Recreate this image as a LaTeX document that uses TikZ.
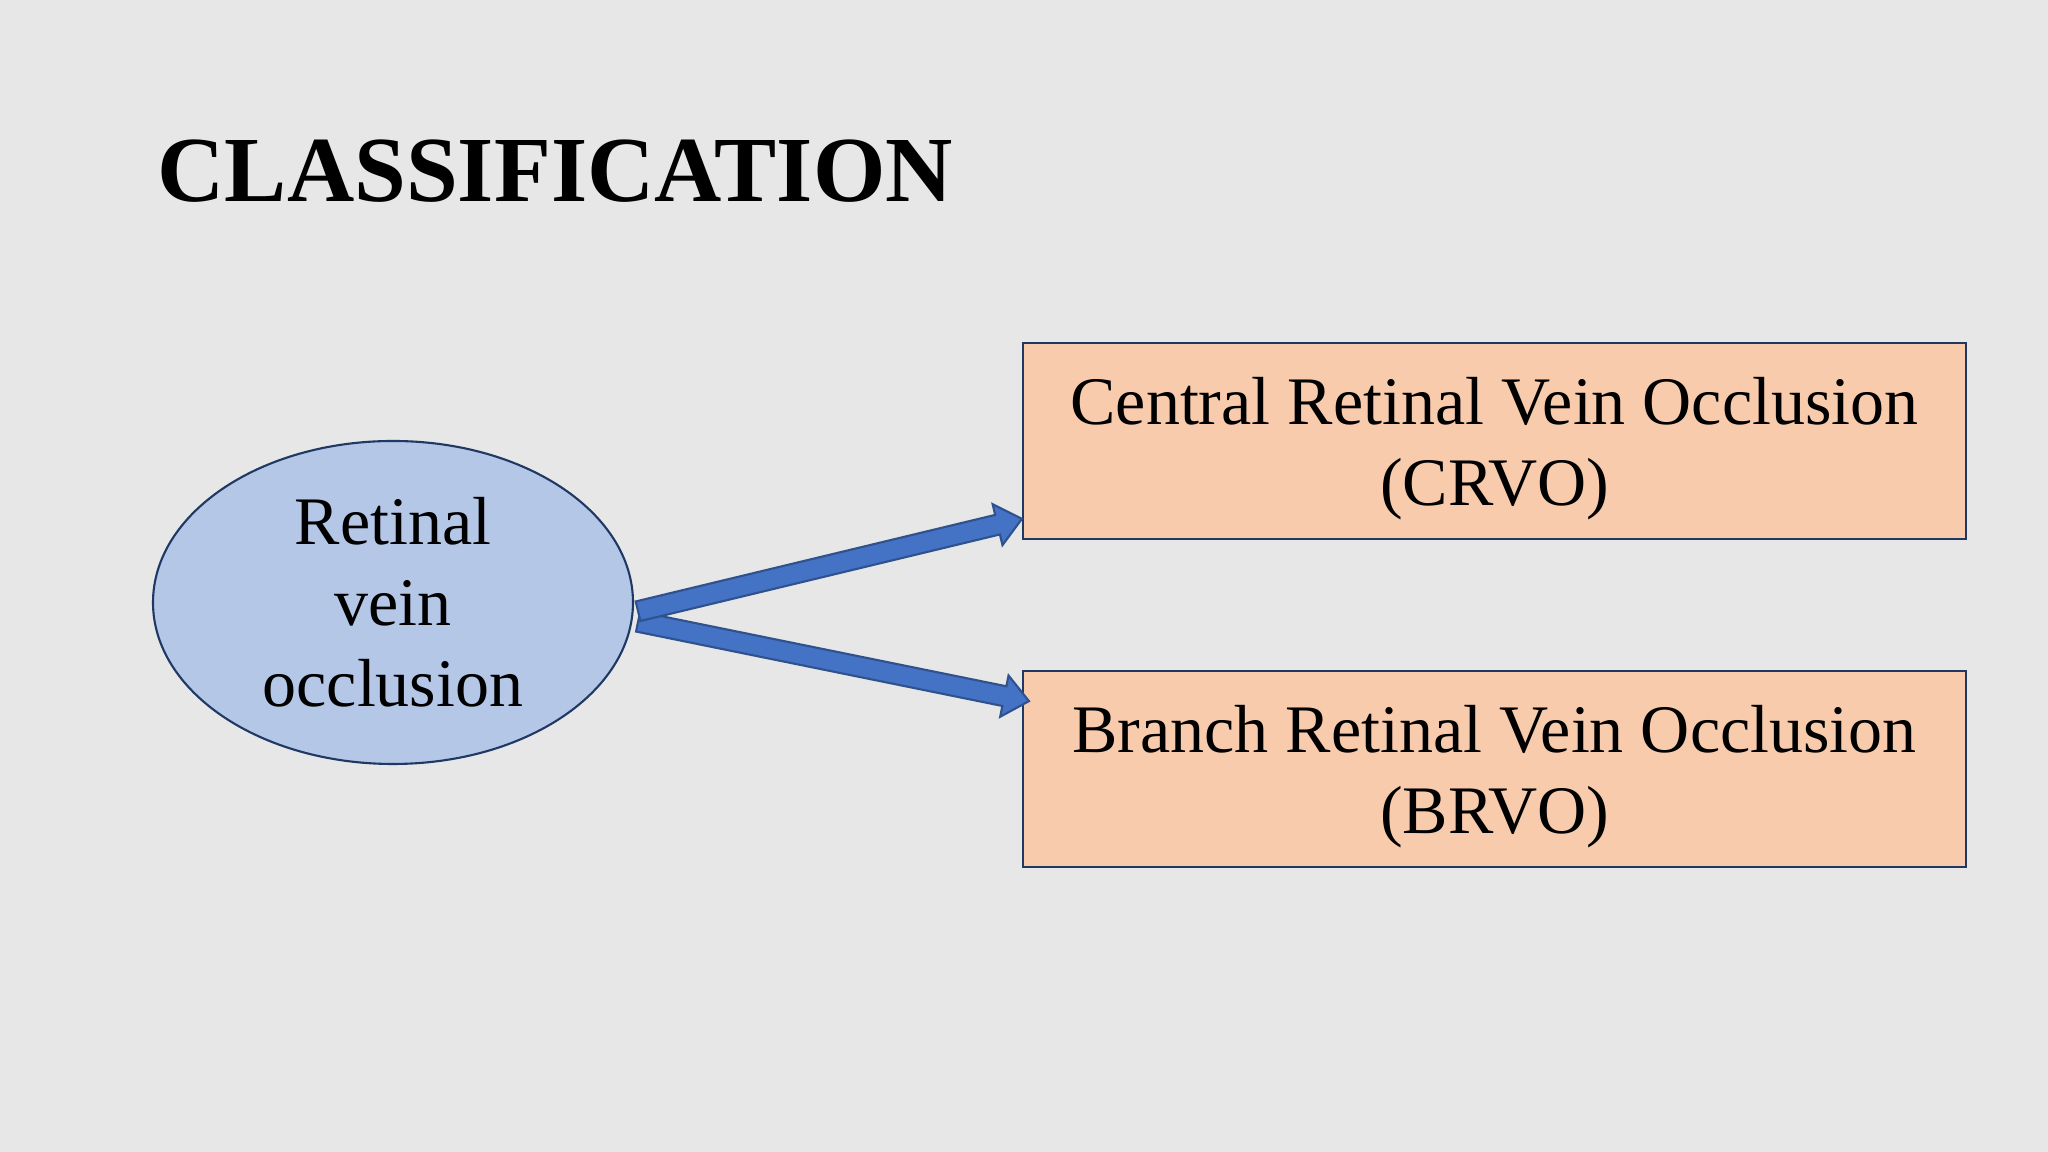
\documentclass[tikz,border=0pt]{standalone}
\usepackage{fontspec}
\setmainfont{Liberation Serif}
\usetikzlibrary{shapes.geometric,shapes.arrows,calc}
\definecolor{slidebg}{RGB}{231,231,231}
\definecolor{veinfill}{RGB}{180,199,231}
\definecolor{boxfill}{RGB}{248,203,173}
\definecolor{edgeblue}{RGB}{31,56,100}
\definecolor{arrowblue}{RGB}{68,114,196}
\definecolor{arrowedge}{RGB}{47,82,143}

\begin{document}
\begin{tikzpicture}[
		rvonode/.style={ellipse, draw=edgeblue, fill=veinfill, line width=0.6pt, minimum width=4.8cm, minimum height=3.23cm, inner sep=0pt, align=center, font=\fontsize{19.35}{23.05}\selectfont},
		typebox/.style={rectangle, draw=edgeblue, fill=boxfill, line width=0.6pt, minimum width=9.43cm, minimum height=1.96cm, inner sep=0pt, align=center, font=\fontsize{19.35}{23.05}\selectfont},
		blockarrow/.style={single arrow, draw=arrowedge, fill=arrowblue, line width=0.6pt, inner xsep=0pt, inner ysep=0.09cm, minimum width=0.40cm, single arrow head extend=0.11cm, single arrow tip angle=80}]

	\fill[slidebg] (0,0) rectangle (20.48,11.52);
	\useasboundingbox (0,0) rectangle (20.48,11.52);

	\node[anchor=base west, inner sep=0pt, font=\bfseries\fontsize{26.5}{32}\selectfont] (title) at (1.57,9.50) {CLASSIFICATION};

	\node[rvonode] (rvo) at (3.93,5.495) {Retinal\\vein\\occlusion};
	\node[typebox] (crvo) at (14.945,7.11) {\rule{0pt}{18pt}Central Retinal Vein Occlusion\\(CRVO)};
	\node[typebox] (brvo) at (14.945,3.83) {\rule{0pt}{18pt}Branch Retinal Vein Occlusion\\(BRVO)};

	% Flechas
	\coordinate (tailA) at ($(rvo.east)+(0.03,-0.09)$);
	\coordinate (tipA) at ($(crvo.south west)+(-0.01,0.21)$);
	\coordinate (tailB) at ($(rvo.east)+(0.03,-0.19)$);
	\coordinate (tipB) at ($(brvo.north west)+(0.06,-0.31)$);

	\path let \p1 = ($(tipB)-(tailB)$), \n1 = {atan2(\y1,\x1)}, \n2 = {veclen(\x1,\y1)} in
		node[blockarrow, anchor=tail, rotate=\n1, minimum height=\n2] (arrB) at (tailB) {};
	\path let \p1 = ($(tipA)-(tailA)$), \n1 = {atan2(\y1,\x1)}, \n2 = {veclen(\x1,\y1)} in
		node[blockarrow, anchor=tail, rotate=\n1, minimum height=\n2] (arrA) at (tailA) {};

\end{tikzpicture}
\end{document}
